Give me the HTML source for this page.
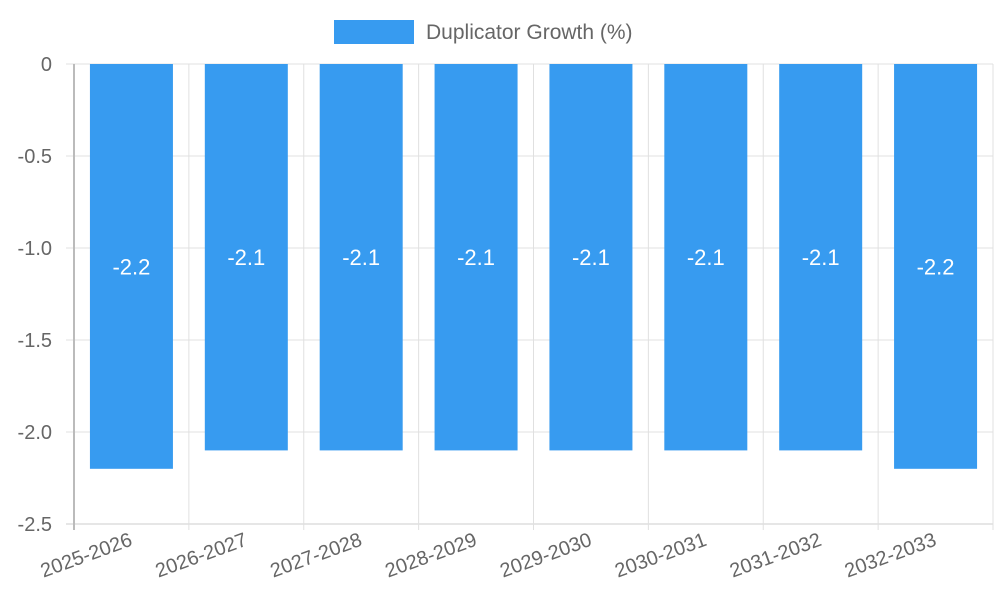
<!DOCTYPE html>
<html><head><meta charset="utf-8"><style>
body{margin:0;background:#fff;}
svg{display:block;font-family:"Liberation Sans",sans-serif;}
</style></head><body>
<svg id="chart" width="1000" height="600">
<g id="legend">
<rect x="334" y="20" width="80" height="24" fill="#379bf0"></rect>
<text x="426" y="39" font-size="21" fill="#666">Duplicator Growth (%)</text>
</g>
<g id="grid"></g><g id="bars"></g><g id="labels"></g>
</svg>
<script>
const categories=["2025-2026","2026-2027","2027-2028","2028-2029","2029-2030","2030-2031","2031-2032","2032-2033"];
const values=[-2.2,-2.1,-2.1,-2.1,-2.1,-2.1,-2.1,-2.2];
const yTicks=[0,-0.5,-1.0,-1.5,-2.0,-2.5];
const yTickLabels=["0","-0.5","-1.0","-1.5","-2.0","-2.5"];
const L=74,R=993,T=64,B=524,yMin=-2.5,yMax=0;
const NS="http://www.w3.org/2000/svg";
const y=v=>T+(yMax-v)/(yMax-yMin)*(B-T);
const band=(R-L)/categories.length;
const x=i=>L+i*band;
function mk(tag,attrs,parent){const e=document.createElementNS(NS,tag);for(const k in attrs)e.setAttribute(k,attrs[k]);parent.appendChild(e);return e;}
const grid=document.getElementById('grid'),bars=document.getElementById('bars'),labels=document.getElementById('labels');
yTicks.forEach((t,i)=>{
  const ln=mk('line',{x1:66,x2:R,y1:y(t),y2:y(t),stroke:i==yTicks.length-1?'#ccc':'#e0e0e0','stroke-width':1},grid);
  
  
  const tx=mk('text',{x:52,y:y(t)+7,'text-anchor':'end','font-size':20,fill:'#666'},labels);
  tx.textContent=yTickLabels[i];
  
  
});
for(let i=0;i<=categories.length;i++){
  const ln=mk('line',{x1:x(i),x2:x(i),y1:T,y2:B+6,stroke:i==0?'#bbb':'#e0e0e0','stroke-width':i==0?2:1},grid);
  
  
}
values.forEach((v,i)=>{
  const cx=x(i)+band/2,w=83;
  const r=mk('rect',{x:cx-w/2,y:y(0),width:w,height:y(v)-y(0),fill:'#379bf0'},bars);
  
  
  const vt=mk('text',{x:cx,y:(y(0)+y(v))/2+8,'text-anchor':'middle','font-size':22,fill:'#fff'},labels);
  vt.textContent=v.toFixed(1);
  
  
  const ct=mk('text',{x:cx+2,y:545,'text-anchor':'end','font-size':20,fill:'#666',transform:`rotate(-20 ${cx+2} 545)`},labels);
  ct.textContent=categories[i];
  
  
});
</script>
</body></html>
